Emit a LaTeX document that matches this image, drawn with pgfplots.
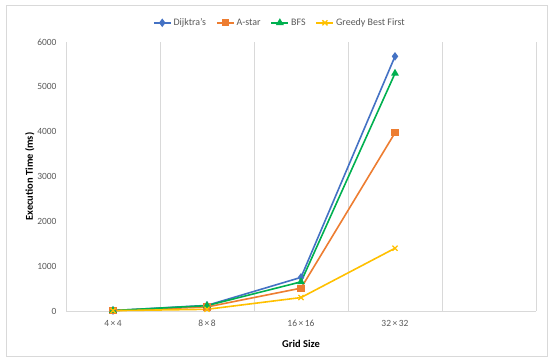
\documentclass[border=0pt]{standalone}
\usepackage{pgfplots}
\pgfplotsset{compat=1.18}
\usepackage{fontspec}
\setmainfont{Carlito}
\definecolor{cBlue}{HTML}{4472C4}
\definecolor{cOrange}{HTML}{ED7D31}
\definecolor{cGreen}{HTML}{00B050}
\definecolor{cYellow}{HTML}{FFC000}
\definecolor{gridc}{HTML}{D9D9D9}
\definecolor{tickc}{HTML}{595959}
\begin{document}
\begin{tikzpicture}[x=1bp,y=1bp]
\path[use as bounding box] (-66,-51) rectangle (484,311);
\draw[gridc, line width=0.75bp] (-60,-45) rectangle (481,306);
\begin{axis}[
  at={(0,0)}, anchor=south west,
  scale only axis, width=470bp, height=269bp,
  xmin=-0.5, xmax=4.5, ymin=0, ymax=6000,
  axis x line*=bottom, axis y line*=left,
  axis line style={gridc, line width=0.75bp, -},
  xtick={0,1,2,3},
  xticklabels={4\,×\,4, 8\,×\,8, 16\,×\,16, 32\,×\,32},
  ytick={0,1000,2000,3000,4000,5000,6000},
  major tick length=0pt,
  extra x ticks={0.5,1.5,2.5,3.5,4.5},
  extra x tick labels={},
  extra x tick style={grid=major, major grid style={gridc, line width=0.75bp}},
  tick label style={font=\fontsize{9.5}{11}\selectfont, text=tickc},
  /pgf/number format/assume math mode=true,
  /pgf/number format/1000 sep={},
  xlabel={\textbf{Grid Size}},
  ylabel={\textbf{Execution Time (ms)}},
  label style={font=\fontsize{10.5}{12}\selectfont, text=black},
  xlabel style={yshift=-6bp},
  ylabel style={yshift=-4bp},
  xticklabel style={yshift=-6bp},
  yticklabel style={xshift=-6bp},
  legend style={at={(0.455,1.04)}, anchor=south, draw=none, fill=none,
    legend columns=4, font=\fontsize{10}{12}\selectfont, text=tickc,
    /tikz/every even column/.append style={column sep=8bp}},
  legend image code/.code={
    \draw[#1, mark=none] (0cm,0cm) -- (0.6cm,0cm);
    \draw[#1, only marks] plot coordinates {(0.3cm,0cm)};
  },
  every axis plot/.append style={line width=1.6bp},
]
\addplot[cBlue, mark=diamond*, mark size=3bp, mark options={solid}] coordinates {(0,10) (1,125) (2,750) (3,5680)};
\addlegendentry{Dijktra's}
\addplot[cOrange, mark=square*, mark size=2.8bp, mark options={solid}] coordinates {(0,10) (1,90) (2,510) (3,3975)};
\addlegendentry{A-star}
\addplot[cGreen, mark=triangle*, mark size=3bp, mark options={solid}] coordinates {(0,10) (1,120) (2,650) (3,5300)};
\addlegendentry{BFS}
\addplot[cYellow, mark=x, mark size=3.6bp, mark options={solid, line width=1.3bp}] coordinates {(0,8) (1,38) (2,300) (3,1400)};
\addlegendentry{Greedy Best First}
\end{axis}
\end{tikzpicture}
\end{document}
